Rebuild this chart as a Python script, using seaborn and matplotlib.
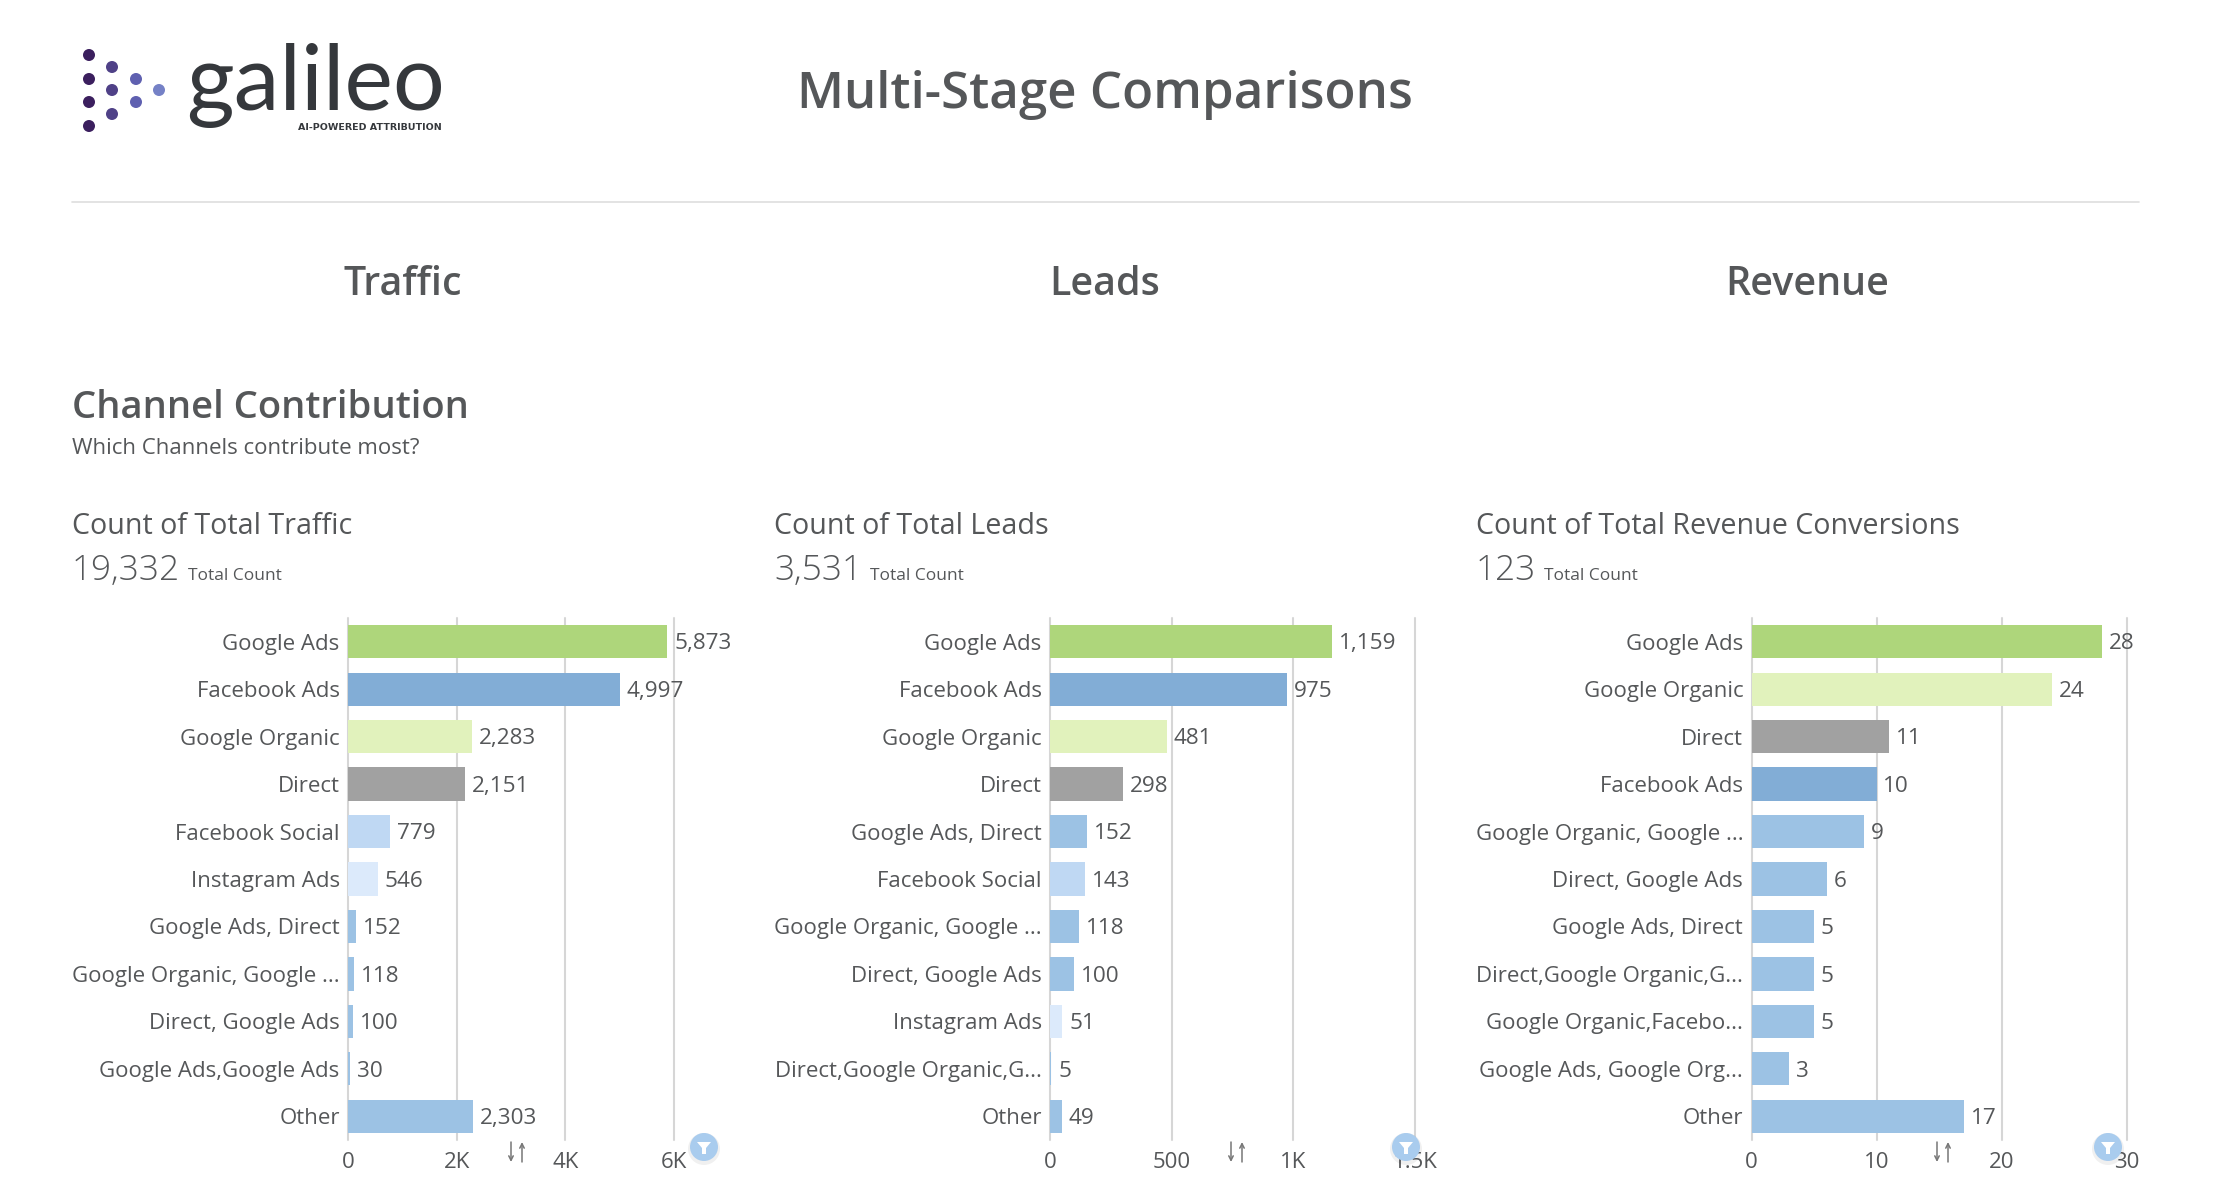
import matplotlib
matplotlib.use("Agg")
import matplotlib.pyplot as plt
from matplotlib.patches import Circle, Polygon
from matplotlib.ticker import FixedLocator, FixedFormatter
import seaborn as sns

sns.set_theme(style="white")
plt.rcParams['font.family'] = ['Open Sans', 'DejaVu Sans']

# ---------- data ----------
traffic_channels = ["Google Ads", "Facebook Ads", "Google Organic", "Direct", "Facebook Social",
                    "Instagram Ads", "Google Ads, Direct", "Google Organic, Google ...",
                    "Direct, Google Ads", "Google Ads,Google Ads", "Other"]
traffic_values = [5873, 4997, 2283, 2151, 779, 546, 152, 118, 100, 30, 2303]
traffic_ticks = [0, 2000, 4000, 6000]
traffic_ticklabels = ["0", "2K", "4K", "6K"]

leads_channels = ["Google Ads", "Facebook Ads", "Google Organic", "Direct", "Google Ads, Direct",
                  "Facebook Social", "Google Organic, Google ...", "Direct, Google Ads",
                  "Instagram Ads", "Direct,Google Organic,G...", "Other"]
leads_values = [1159, 975, 481, 298, 152, 143, 118, 100, 51, 5, 49]
leads_ticks = [0, 500, 1000, 1500]
leads_ticklabels = ["0", "500", "1K", "1.5K"]

revenue_channels = ["Google Ads", "Google Organic", "Direct", "Facebook Ads", "Google Organic, Google ...",
                    "Direct, Google Ads", "Google Ads, Direct", "Direct,Google Organic,G...",
                    "Google Organic,Facebo...", "Google Ads, Google Org...", "Other"]
revenue_values = [28, 24, 11, 10, 9, 6, 5, 5, 5, 3, 17]
revenue_ticks = [0, 10, 20, 30]
revenue_ticklabels = ["0", "10", "20", "30"]

channel_colors = {"Google Ads": "#AED67B", "Facebook Ads": "#82ADD6", "Google Organic": "#E1F2BC",
                  "Direct": "#A1A1A1", "Facebook Social": "#BFD8F3", "Instagram Ads": "#DCEAFB"}
other_color = "#9CC2E4"

panel_titles = ["Count of Total Traffic", "Count of Total Leads", "Count of Total Revenue Conversions"]
panel_totals = ["19,332", "3,531", "123"]
stage_names = ["Traffic", "Leads", "Revenue"]

# ---------- layout (pixels) ----------
W, H = 2232, 1196
TEXT = "#555759"
fig = plt.figure(figsize=(W / 100, H / 100), dpi=100, facecolor="white")
ov = fig.add_axes([0, 0, 1, 1], zorder=5)
ov.set_xlim(0, W); ov.set_ylim(H, 0); ov.axis("off"); ov.patch.set_alpha(0)

def T(x, y, s, size, color=TEXT, ha="left", va="center", weight="normal", **kw):
    return ov.text(x, y, s, fontsize=size, color=color, ha=ha, va=va, fontweight=weight, **kw)

panels = [
    (348, 674, traffic_channels, traffic_values, traffic_ticks, traffic_ticklabels, 72, 403, 517, 704),
    (1050, 1415, leads_channels, leads_values, leads_ticks, leads_ticklabels, 774, 1105, 1237, 1406),
    (1751.5, 2126.5, revenue_channels, revenue_values, revenue_ticks, revenue_ticklabels, 1476, 1807, 1943, 2108),
]
TOP, BOTTOM = 618, 1140

for i, (x0, x1, cats, vals, ticks, tlabels, tx, sx, sortx, filtx) in enumerate(panels):
    ax = fig.add_axes([x0 / W, 1 - BOTTOM / H, (x1 - x0) / W, (BOTTOM - TOP) / H])
    pal = {c: channel_colors.get(c, other_color) for c in cats}
    sns.barplot(y=cats, x=vals, hue=cats, palette=pal, order=cats, hue_order=cats, dodge=False,
                saturation=1, width=0.695, legend=False, ax=ax, linewidth=0, zorder=3)
    ax.set_xlim(ticks[0], ticks[-1])
    ax.set_ylim(10.495, -0.495)
    ax.xaxis.set_major_locator(FixedLocator(ticks))
    ax.xaxis.set_major_formatter(FixedFormatter(tlabels))
    ax.set_axisbelow(True)
    ax.grid(axis="x", color="#D6D6D6", lw=1.5)
    ax.grid(axis="y", visible=False)
    for gl in ax.get_xgridlines():
        gl.set_clip_on(False)
    sns.despine(ax=ax, left=True, bottom=True, top=True, right=True)
    ax.patch.set_alpha(0)
    ax.tick_params(axis="x", length=0, pad=9, labelsize=16, labelcolor=TEXT)
    ax.tick_params(axis="y", length=0, pad=6, labelsize=16, labelcolor=TEXT)
    ax.set_xlabel(""); ax.set_ylabel("")
    for c in ax.containers:
        for lab in ax.bar_label(c, fmt="{:,.0f}", padding=5, fontsize=16.2, color=TEXT):
            lab.xyann = (lab.xyann[0], lab.xyann[1] - 1.6)

    T(sx, 285, stage_names[i], 28.4, ha="center", weight="semibold")
    T(tx, 526, panel_titles[i], 20.6)
    num = T(tx, 571, panel_totals[i], 25.4, weight="light")
    fig.canvas.draw()
    bb = num.get_window_extent().transformed(ov.transData.inverted())
    T(bb.x1 + 8, 576, "Total Count", 12.5)

    # sort and filter controls
    ov.annotate("", xy=(sortx - 6, 1162), xytext=(sortx - 6, 1142),
                arrowprops=dict(arrowstyle="->", color="#777777", lw=1.1, mutation_scale=8, shrinkA=0, shrinkB=0))
    ov.annotate("", xy=(sortx + 5, 1142), xytext=(sortx + 5, 1162),
                arrowprops=dict(arrowstyle="->", color="#777777", lw=1.1, mutation_scale=8, shrinkA=0, shrinkB=0))
    ov.add_patch(Circle((filtx, 1149), 16, fc="#000000", alpha=0.06, ec="none"))
    ov.add_patch(Circle((filtx, 1147), 14, fc="#A9CCEE", ec="none"))
    ov.add_patch(Polygon([(filtx - 7, 1142), (filtx + 7, 1142), (filtx + 2, 1148), (filtx + 2, 1154),
                          (filtx - 2, 1154), (filtx - 2, 1148)], fc="white", ec="none"))

# ---------- page header ----------
T(1105, 95, "Multi-Stage Comparisons", 36.7, ha="center", weight="semibold")
ov.plot([72, 2139], [202, 202], color="#DEDEDE", lw=1.2)
T(72, 408, "Channel Contribution", 27.5, weight="semibold")
T(72, 449, "Which Channels contribute most?", 16)

# ---------- logo ----------
dot_cols = [(89, [55, 79, 102, 126], "#3B1F5E"), (112, [67, 90, 114], "#4F4187"),
            (136, [79, 102], "#5F60B0"), (159, [90], "#7581C6")]
for x, ys, col in dot_cols:
    for y in ys:
        ov.add_patch(Circle((x, y), 6, fc=col, ec="none"))
ov.text(186, 110, "galileo", fontsize=66, color="#35383C", family="Lato", ha="left", va="baseline")
ov.text(442, 127, "AI-POWERED ATTRIBUTION", fontsize=6.8, color="#35383C", family="DejaVu Sans", weight="bold",
        ha="right", va="center")

fig.savefig("out.png", dpi=100, facecolor="white")
